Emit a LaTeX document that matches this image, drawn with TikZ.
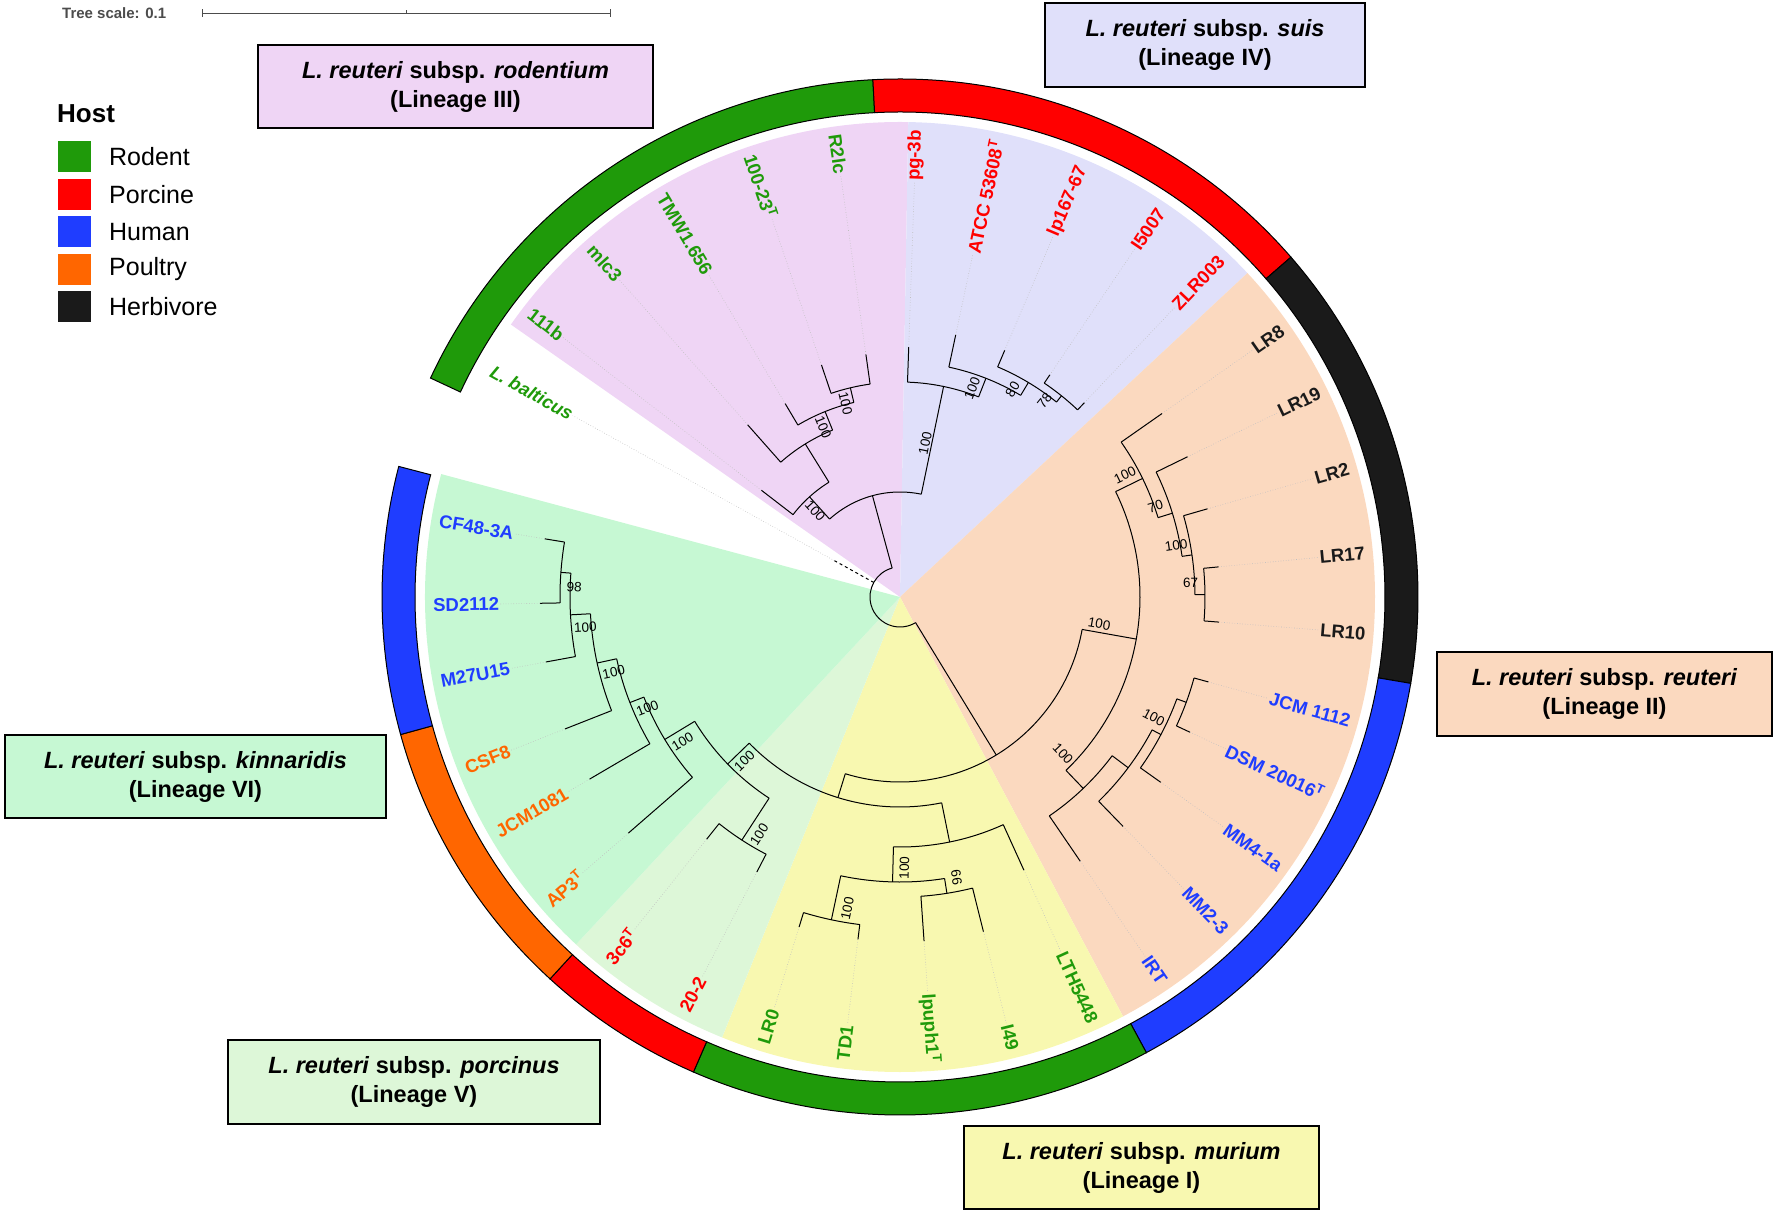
\documentclass[tikz,border=0pt]{standalone}
\usepackage{fontspec}
\setmainfont{Liberation Sans}
\definecolor{cRod}{HTML}{1F9A0A}
\definecolor{cPor}{HTML}{FF0000}
\definecolor{cHum}{HTML}{1F3DFF}
\definecolor{cPou}{HTML}{FF6600}
\definecolor{cHer}{HTML}{1A1A1A}
\definecolor{wPink}{HTML}{EFD5F5}
\definecolor{wLav}{HTML}{E0E0FA}
\definecolor{wPea}{HTML}{FBD9BF}
\definecolor{wYel}{HTML}{F8F8B0}
\definecolor{wPgr}{HTML}{DDF7D8}
\definecolor{wGrn}{HTML}{C6F8D3}
\tikzset{
 br/.style={line width=1pt,black},
 dots/.style={gray!50,dotted,line width=0.6pt},
 lab/.style={font=\fontsize{18.5}{20}\selectfont\bfseries,inner sep=1pt},
 bsl/.style={font=\fontsize{13.5}{14}\selectfont,inner sep=0.5pt},
 box/.style={draw=black,line width=2.2pt,align=center,font=\fontsize{23.5}{29}\selectfont\bfseries,inner sep=0pt},
 leg/.style={font=\fontsize{25}{28}\selectfont,anchor=west,inner sep=0pt},
}
\newcommand\nd[5]{\draw[br] (#1:#2pt) -- (#1:#3pt);\draw[br] (#4:#3pt) arc[start angle=#4,end angle=#5,radius=#3pt];}
\newcommand\leafR[6]{\draw[br] (#2:#3pt) -- (#2:#4pt) coordinate (t#1);
 \node[lab,text=#5,rotate=#2,anchor=east] (#1) at (#2:468pt) {#6};
 \draw[dots] (t#1) -- (#1.west);}
\newcommand\leafL[6]{\draw[br] (#2:#3pt) -- (#2:#4pt) coordinate (t#1);
 \node[lab,text=#5,rotate=#2+180,anchor=west] (#1) at (#2:468pt) {#6};
 \draw[dots] (t#1) -- (#1.east);}
\newcommand\bs[3]{\node[bsl,rotate={ifthenelse(cos(#1)>=0,#1,#1+180)}] at (#1+2.4:#2pt-14pt) {#3};}
\newcommand\sector[3]{\fill[#1] (0,0) -- (#2:475pt) arc[start angle=#2,end angle=#3,radius=475pt] -- cycle;}
\newcommand\seg[3]{\filldraw[fill=#1,draw=black,line width=1pt] (#2:485pt) arc[start angle=#2,end angle=#3,radius=485pt] -- (#3:518pt) arc[start angle=#3,end angle=#2,radius=518pt] -- cycle;}
\begin{document}
\begin{tikzpicture}[x=1pt,y=1pt]
\useasboundingbox (-900,-615) rectangle (876,597);
% sectors
\sector{wPink}{89}{145}
\sector{wLav}{43}{89}
\sector{wPea}{-62}{43}
\sector{wYel}{-112}{-62}
\sector{wPgr}{-133}{-112}
\sector{wGrn}{165}{227}
% ring
\seg{cRod}{93}{155}
\seg{cPor}{41}{93}
\seg{cHer}{-9.6}{41}
\seg{cHum}{-61.6}{-9.6}
\seg{cRod}{-113.5}{-61.6}
\seg{cPor}{-132.5}{-113.5}
\seg{cPou}{-164.6}{-132.5}
\seg{cHum}{165.4}{195.4}
% tree
\draw[br] (105.2:30pt) arc[start angle=105.2,end angle=301.35,radius=30pt];
\nd{105.2}{30}{105}{78.3}{132.1}
\nd{132.1}{105}{135}{121.75}{142.4}
\nd{121.75}{135}{180}{112.0}{131.5}
\nd{112.0}{180}{200}{103.35}{120.7}
\nd{103.35}{200}{215}{98}{108.7}
\leafL{bb}{142.4}{135}{175}{cRod}{111b}
\leafL{mlc}{131.5}{180}{230}{cRod}{mlc3}
\leafL{tmw}{120.7}{200}{225}{cRod}{TMW1.656}
\leafL{hund}{108.7}{215}{245}{cRod}{100-23\textsuperscript{T}}
\leafL{rtl}{98}{215}{245}{cRod}{R2lc}
\nd{78.3}{105}{215}{68.55}{88}
\nd{68.55}{215}{235}{59.1}{78}
\nd{59.1}{235}{250}{51.25}{67}
\nd{51.25}{250}{258}{46.5}{56}
\leafR{pg}{88}{215}{250}{cPor}{pg-3b}
\leafR{atcc}{78}{235}{268}{cPor}{ATCC 53608\textsuperscript{T}}
\leafR{lp}{67}{250}{268}{cPor}{lp167-67}
\leafR{ifive}{56}{258}{268}{cPor}{I5007}
\leafR{zlr}{46.5}{258}{268}{cPor}{ZLR003}
% balticus
\draw[br,dashed] (151:30pt) -- (151:75pt) coordinate (tbal);
\node[lab,text=cRod,rotate=151+180,anchor=west] (bal) at (151:468pt) {\itshape L. balticus};
\draw[dots] (tbal) -- (bal.east);
% lower
\nd{301.35}{30}{185}{252.8}{349.9}
\nd{-10.1}{185}{240}{-46.25}{26.05}
\nd{26.05}{240}{270}{17.1}{35}
\nd{17.1}{270}{285}{8.2}{26}
\nd{8.2}{285}{295}{0.45}{16}
\nd{0.45}{295}{305}{-4.5}{5.4}
\leafR{leight}{35}{270}{320}{cHer}{LR8}
\leafR{lnine}{26}{285}{320}{cHer}{LR19}
\leafR{ltwo}{16}{295}{320}{cHer}{LR2}
\leafR{lseven}{5.4}{305}{320}{cHer}{LR17}
\leafR{lten}{-4.5}{305}{320}{cHer}{LR10}
\nd{-46.25}{240}{265}{-55.7}{-36.8}
\nd{-36.8}{265}{285}{-45.8}{-27.8}
\nd{-27.8}{285}{295}{-35.4}{-20.2}
\nd{-20.2}{295}{305}{-25}{-15.4}
\leafR{jcm}{-15.4}{305}{320}{cHum}{JCM 1112}
\leafR{dsm}{-25}{305}{320}{cHum}{DSM 20016\textsuperscript{T}}
\leafR{mmf}{-35.4}{295}{320}{cHum}{MM4-1a}
\leafR{mmt}{-45.8}{285}{320}{cHum}{MM2-3}
\leafR{irt}{-55.7}{265}{320}{cHum}{IRT}
\nd{252.8}{185}{210}{224.1}{281.45}
\nd{281.45}{210}{250}{268.5}{294.4}
\nd{268.5}{250}{285}{258}{279}
\nd{258}{285}{330}{253}{263}
\nd{279}{285}{300}{274}{284}
\leafL{lrz}{-107}{330}{345}{cRod}{LR0}
\leafL{td}{-97}{330}{345}{cRod}{TD1}
\leafR{lpu}{-86}{300}{345}{cRod}{lpuph1\textsuperscript{T}}
\leafR{ifn}{-76}{300}{345}{cRod}{I49}
\leafR{lth}{-65.6}{250}{300}{cRod}{LTH5448}
\nd{224.1}{210}{240}{211.2}{236.95}
\nd{236.95}{240}{290}{231.4}{242.5}
\leafL{tw}{-117.5}{290}{310}{cPor}{20-2}
\leafL{tcs}{-128.6}{290}{310}{cPor}{3c6\textsuperscript{T}}
\nd{211.2}{240}{275}{201.35}{221}
\nd{201.35}{275}{290}{192.3}{210.4}
\nd{192.3}{290}{310}{183.1}{201.5}
\nd{183.1}{310}{330}{175.85}{190.4}
\nd{175.85}{330}{340}{170.7}{181}
\leafL{ap}{221}{275}{360}{cPou}{AP3\textsuperscript{T}}
\leafL{jcmb}{210.4}{290}{360}{cPou}{JCM1081}
\leafL{csf}{201.5}{310}{360}{cPou}{CSF8}
\leafL{mtw}{190.4}{330}{360}{cHum}{M27U15}
\leafL{sd}{181}{340}{360}{cHum}{SD2112}
\leafL{cf}{170.7}{340}{360}{cHum}{CF48-3A}
% bootstraps
\bs{103.35}{215}{100}\bs{112.0}{200}{100}\bs{132.1}{135}{100}
\bs{78.3}{170}{100}\bs{68.55}{235}{100}\bs{59.1}{250}{80}\bs{51.25}{258}{78}
\bs{-10.1}{215}{100}\bs{26.05}{270}{100}\bs{17.1}{285}{70}\bs{8.2}{295}{100}\bs{0.45}{305}{67}
\bs{-27.8}{295}{100}\bs{-46.25}{240}{100}
\bs{258}{330}{100}\bs{268.5}{285}{100}\bs{279}{300}{66}
\bs{236.95}{290}{100}\bs{224.1}{240}{100}\bs{211.2}{275}{100}\bs{201.35}{290}{100}
\bs{192.3}{310}{100}\bs{183.1}{330}{100}\bs{175.85}{340}{98}
% boxes
\node[box,fill=wPink,minimum width=395pt,minimum height=83pt] (bRod) at (-444.5,510.5) {\textit{L. reuteri} subsp. \textit{rodentium}\\(Lineage III)};
\node[box,fill=wLav,minimum width=320pt,minimum height=84pt] (bSuis) at (305,552) {\textit{L. reuteri} subsp. \textit{suis}\\(Lineage IV)};
\node[box,fill=wPea,minimum width=335pt,minimum height=84pt] (bReu) at (704.5,-97) {\textit{L. reuteri} subsp. \textit{reuteri}\\(Lineage II)};
\node[box,fill=wYel,minimum width=355pt,minimum height=83pt] (bMur) at (241.5,-570.5) {\textit{L. reuteri} subsp. \textit{murium}\\(Lineage I)};
\node[box,fill=wGrn,minimum width=381pt,minimum height=83pt] (bKin) at (-704.5,-179.5) {\textit{L. reuteri} subsp. \textit{kinnaridis}\\(Lineage VI)};
\node[box,fill=wPgr,minimum width=372pt,minimum height=84pt] (bPor) at (-486,-485) {\textit{L. reuteri} subsp. \textit{porcinus}\\(Lineage V)};
% legend
\node[leg,font=\fontsize{26}{28}\selectfont\bfseries] (host) at (-843,483) {Host};
\foreach \c/\t [count=\i from 0] in {cRod/Rodent,cPor/Porcine,cHum/Human,cPou/Poultry,cHer/Herbivore}{
 \fill[\c] (-841.5,456-37.6*\i) rectangle (-809,425-37.6*\i);
 \node[leg] (leg\i) at (-791,440.5-37.6*\i) {\t};
}
% tree scale
\node[anchor=west,inner sep=0pt,text=black!70,font=\fontsize{15}{16}\selectfont\bfseries] (ts) at (-838,584) {Tree scale: 0.1};
\draw[black!70,line width=0.8pt] (-698,584) -- (-290,584);
\draw[black!70,line width=0.8pt] (-698,580) -- (-698,588) (-290,580) -- (-290,588) (-494,584) -- (-494,587);
\end{tikzpicture}
\end{document}
